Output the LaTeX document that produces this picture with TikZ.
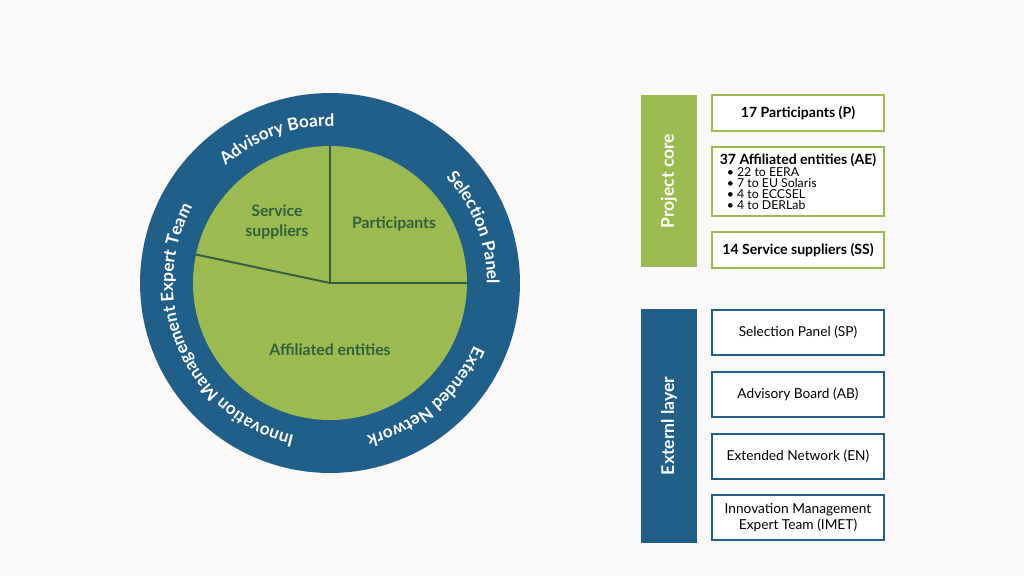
\documentclass[tikz,border=0pt]{standalone}
\usepackage{fontspec}
\setmainfont{Lato}
\usetikzlibrary{positioning,decorations.text}
\definecolor{ringblue}{HTML}{1F5F8A}
\definecolor{piegreen}{HTML}{9BBB50}
\definecolor{piedark}{HTML}{2F5E45}
\definecolor{textgreen}{HTML}{2E6140}
\definecolor{bgcol}{HTML}{FAF9F8}
\newcommand\ringfont{\fontsize{9.8}{11}\selectfont\bfseries}
\newcommand\bul{\hspace{4pt}\textbullet\ }

\begin{document}
\begin{tikzpicture}[x=0.02cm,y=0.02cm,
bar/.style={rotate=90,minimum width=3.44cm,minimum height=1.12cm,text=white,font=\fontsize{10}{12}\selectfont\bfseries},
item/.style={draw,fill=white,line width=1.1pt,minimum width=3.44cm,minimum height=0.9cm,align=center,font=\fontsize{7.8}{9}\selectfont},
slice/.style={text=textgreen,align=center,font=\fontsize{9}{11}\selectfont\bfseries},
ringtext/.style={decorate,decoration={text along path,text align=center,text color=white,text={|\ringfont|#1}}}
]
\fill[bgcol] (0,0) rectangle (1024,576);
% circle
\coordinate (ctr) at (330,293);
\fill[ringblue] (ctr) circle (3.8cm);
\fill[piegreen] (ctr) circle (2.74cm);
\draw[piedark,line width=1.1pt] (ctr) -- +(90:2.74cm);
\draw[piedark,line width=1.1pt] (ctr) -- +(0:2.74cm);
\draw[piedark,line width=1.1pt] (ctr) -- +(168:2.74cm);
\node[slice] (ssl) at (277,354) {Service\\suppliers};
\node[slice] (psl) at (394,352) {Participants};
\node[slice] (asl) at (330,226) {Affiliated entities};
% ring labels
\path[ringtext=Advisory Board] (ctr) ++(160:3.14cm) arc[start angle=160,end angle=60,radius=3.14cm];
\path[ringtext=Selection Panel] (ctr) ++(71:3.14cm) arc[start angle=71,end angle=-29,radius=3.14cm];
\path[ringtext=Extended Network] (ctr) ++(0:3.14cm) arc[start angle=0,end angle=-100,radius=3.14cm];
\path[ringtext=Innovation Management Expert Team] (ctr) ++(294:3.14cm) arc[start angle=294,end angle=114,radius=3.14cm];
% project core
\node[bar,fill=piegreen] (core) at (669,395) {Project core};
\node[item,draw=piegreen,minimum height=0.72cm,font=\fontsize{8}{10}\selectfont\bfseries] (p) at (798,463) {17 Participants (P)};
\node[item,draw=piegreen,minimum height=1.38cm,inner sep=1pt,below=0.28cm of p,align=left,font=\fontsize{7}{6.2}\selectfont] (ae) {{\fontsize{8}{9}\selectfont\bfseries 37 Affiliated entities (AE)}\\[-0.5pt]
\bul 22 to EERA\\\bul 7 to EU Solaris\\\bul 4 to ECCSEL\\\bul 4 to DERLab};
\node[item,draw=piegreen,minimum height=0.72cm,below=0.28cm of ae,font=\fontsize{8}{10}\selectfont\bfseries] (ss) {14 Service suppliers (SS)};
% external layer
\node[bar,fill=ringblue,minimum width=4.68cm] (ext) at (669,150) {Externl layer};
\node[item,draw=ringblue] (sp) at (798,243.5) {Selection Panel (SP)};
\node[item,draw=ringblue,below=0.3cm of sp] (ab) {Advisory Board (AB)};
\node[item,draw=ringblue,below=0.3cm of ab] (en) {Extended Network (EN)};
\node[item,draw=ringblue,below=0.28cm of en] (imet) {Innovation Management\\Expert Team (IMET)};
\end{tikzpicture}
\end{document}
